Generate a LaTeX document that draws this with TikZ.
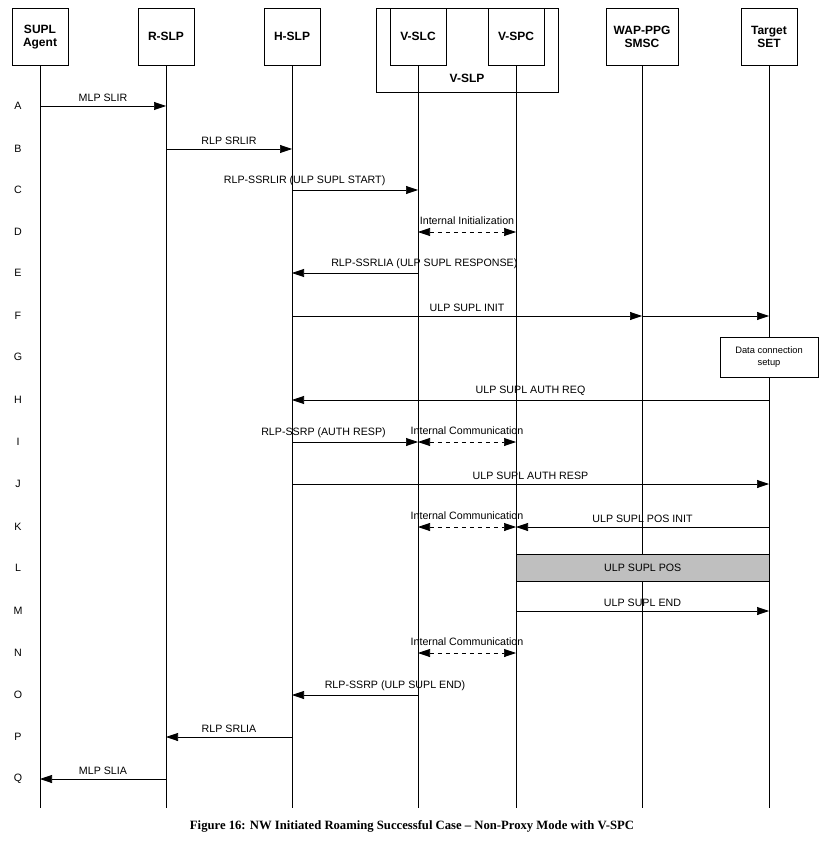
\documentclass[tikz,border=0pt]{standalone}
\usepackage{fontspec}
\setmainfont{Liberation Sans}
\newfontfamily\capfont{Liberation Serif}
\usetikzlibrary{arrows.meta}
\begin{document}
\begin{tikzpicture}[x=0.75pt,y=-0.75pt,
  hdr/.style={draw,fill=white,minimum width=42pt,minimum height=42.75pt,inner sep=1pt,align=center,font=\bfseries\fontsize{9}{10}\selectfont,anchor=north},
  life/.style={line width=0.5pt},
  msg/.style={line width=0.5pt,-{Triangle[length=9pt,width=6pt]}},
  imsg/.style={line width=0.5pt,dashed,{Triangle[length=9pt,width=6pt]}-{Triangle[length=9pt,width=6pt]}},
  lbl/.style={font=\fontsize{8}{9}\selectfont,inner sep=1pt,anchor=south,yshift=2pt},
  row/.style={font=\fontsize{8}{9}\selectfont}]
\useasboundingbox (0,0) rectangle (833,841);
\node[draw,minimum width=136.5pt,minimum height=63pt,anchor=north west,inner sep=0] (vslp) at (376,8) {};
\node[font=\bfseries\fontsize{9}{10}\selectfont] (vslpl) at (467,78) {V-SLP};
\foreach \n/\x/\t/\w in {sa/40/{SUPL\\Agent}/42, rs/166/R-SLP/42, hs/292/H-SLP/42, vc/418/V-SLC/42, vp/516/V-SPC/42, wp/642/{WAP-PPG\\SMSC}/54, ts/769/{Target\\SET}/42}{
  \node[hdr,minimum width=\w pt] (\n) at (\x,8) {\t};
  \coordinate (\n e) at (\x,808);
}
\draw[life] (sa.south)--(sae); \draw[life] (rs.south)--(rse); \draw[life] (hs.south)--(hse);
\draw[life] (vc.south)--(vce); \draw[life] (vp.south)--(vpe);
\draw[life] (wp.south)--(wpe); \draw[life] (ts.south)--(tse);
\foreach \l/\y in {A/106,B/149,C/190,D/232,E/273,F/316,G/357,H/400,I/442,J/484,K/527,L/568,M/611,N/653,O/695,P/737,Q/779}{
  \node[row] (r\l) at (18,\y) {\l};
  \foreach \n in {sa,rs,hs,vc,vp,wp,ts}{\coordinate (\n\l) at (\n e|-r\l);}
}
\draw[msg] (saA)--(rsA) node[lbl,midway] {MLP SLIR};
\draw[msg] (rsB)--(hsB) node[lbl,midway] {RLP SRLIR};
\draw[msg] (hsC)--(vcC) node[lbl,pos=0.1] {RLP-SSRLIR (ULP SUPL START)};
\draw[imsg] (vcD)--(vpD) node[lbl,midway,yshift=2pt] {Internal Initialization};
\draw[msg] (vcE)--(hsE) node[lbl,midway,xshift=52pt] {RLP-SSRLIA (ULP SUPL RESPONSE)};
\draw[msg] (hsF)--(wpF) node[lbl,pos=0.5] {ULP SUPL INIT};
\draw[msg] (wpF)--(tsF);
\node[draw,fill=white,minimum width=73.5pt,minimum height=30pt,align=center,font=\fontsize{7}{8.5}\selectfont] (dc) at (769,357) {Data connection\\setup};
\draw[msg] (tsH)--(hsH) node[lbl,midway] {ULP SUPL AUTH REQ};
\draw[msg] (hsI)--(vcI) node[lbl,pos=0.25] {RLP-SSRP (AUTH RESP)};
\draw[imsg] (vcI)--(vpI) node[lbl,midway,yshift=2pt] {Internal Communication};
\draw[msg] (hsJ)--(tsJ) node[lbl,midway] {ULP SUPL AUTH RESP};
\draw[imsg] (vcK)--(vpK) node[lbl,midway,yshift=2pt] {Internal Communication};
\draw[msg] (tsK)--(vpK) node[lbl,midway] {ULP SUPL POS INIT};
\node[draw,fill=gray!50,minimum width=189.75pt,minimum height=20.25pt,anchor=west,inner sep=0,font=\fontsize{8}{9}\selectfont] (pos) at (vpL) {ULP SUPL POS};
\draw[msg] (vpM)--(tsM) node[lbl,midway] {ULP SUPL END};
\draw[imsg] (vcN)--(vpN) node[lbl,midway,yshift=2pt] {Internal Communication};
\draw[msg] (vcO)--(hsO) node[lbl,midway,xshift=30pt] {RLP-SSRP (ULP SUPL END)};
\draw[msg] (hsP)--(rsP) node[lbl,midway] {RLP SRLIA};
\draw[msg] (rsQ)--(saQ) node[lbl,midway] {MLP SLIA};
\node[font=\capfont\bfseries\fontsize{9.5}{11}\selectfont] (cap) at (412,826) {Figure 16: NW Initiated Roaming Successful Case – Non-Proxy Mode with V-SPC};
\end{tikzpicture}
\end{document}
